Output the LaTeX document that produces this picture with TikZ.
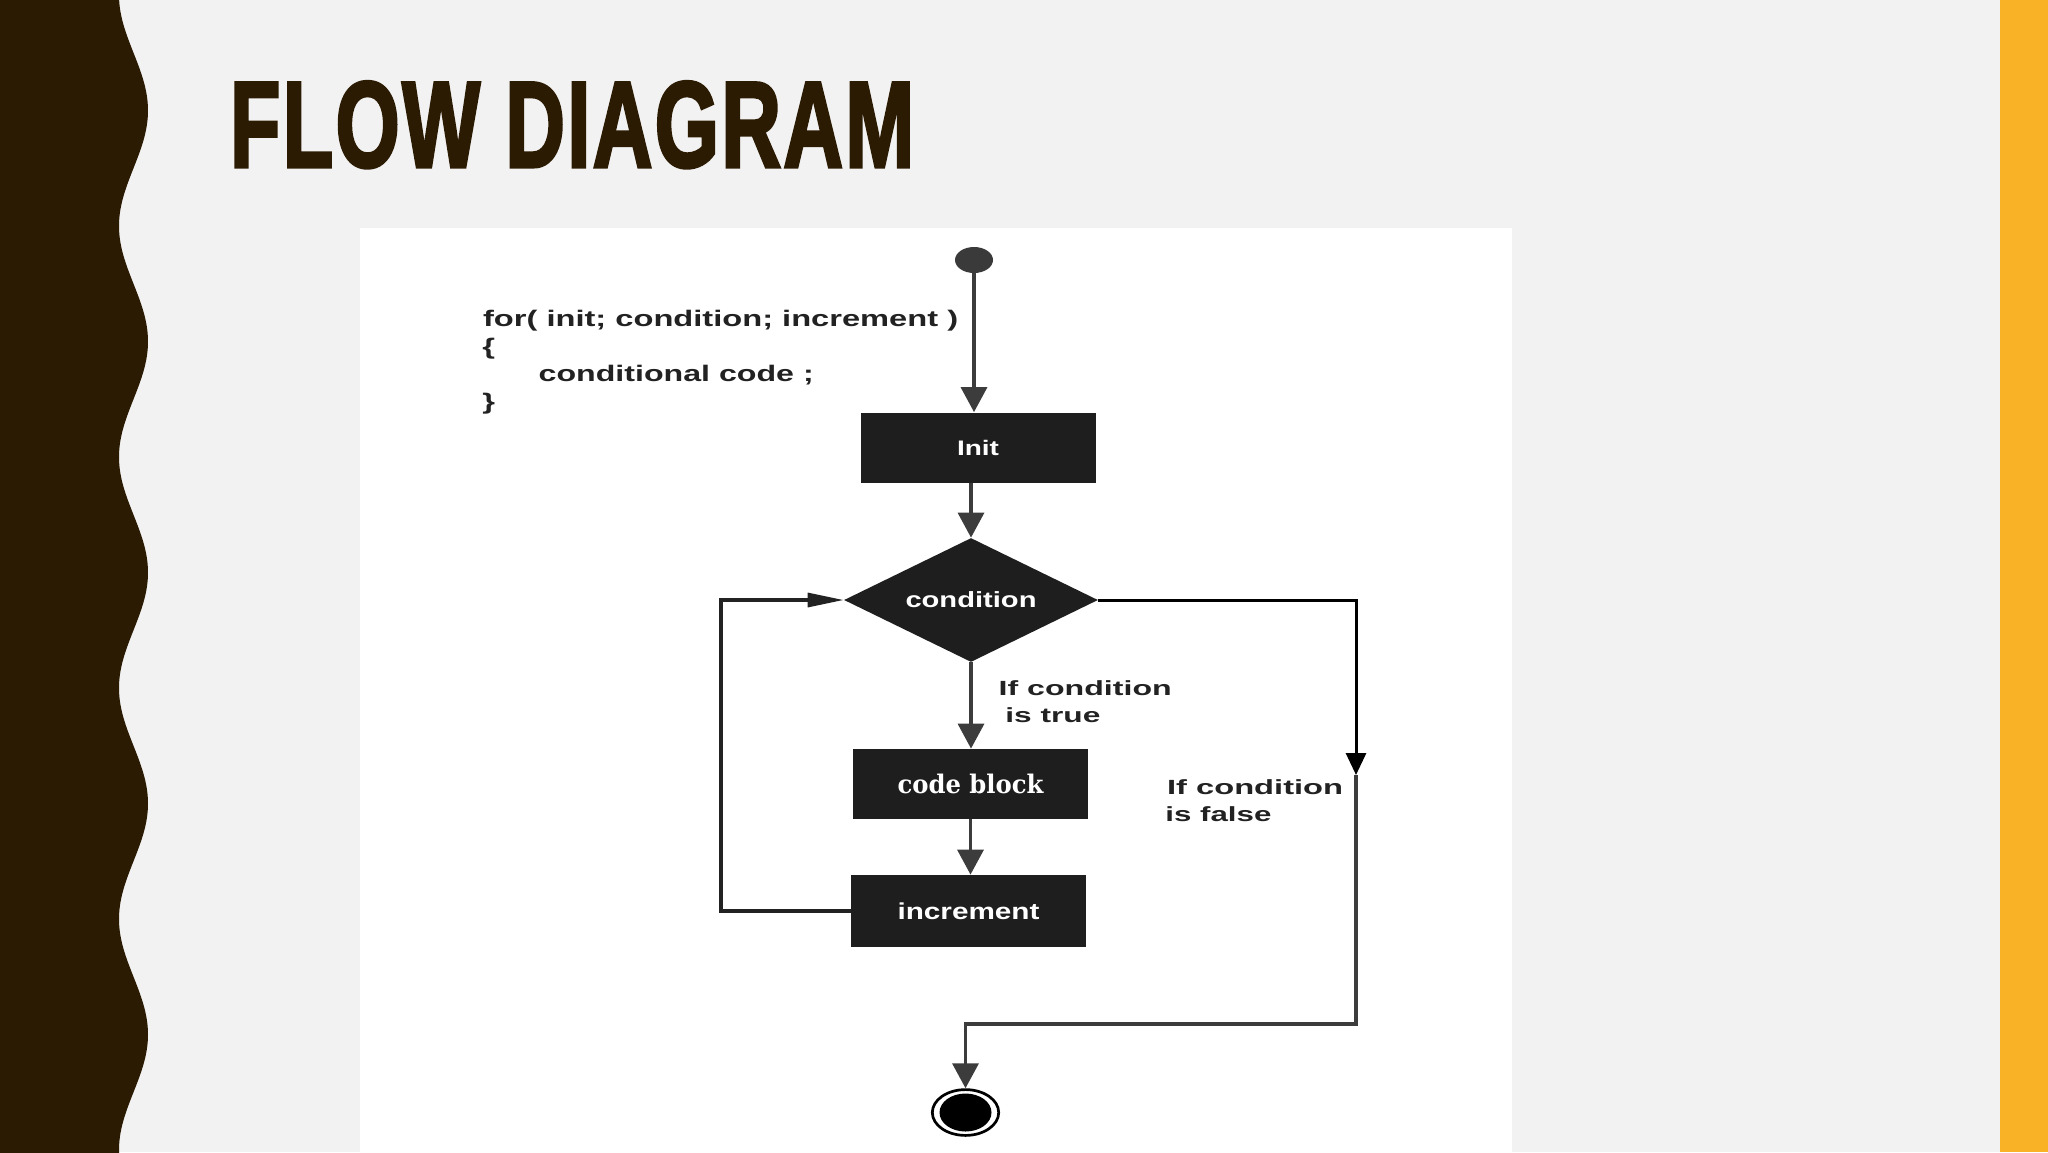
\documentclass[tikz,border=0pt]{standalone}
\usepackage{fontspec}
\usepackage{graphicx}
\setmainfont{Liberation Sans}
\newfontfamily\titlefont[FakeBold=3,LetterSpace=3]{Liberation Sans Bold}
\newfontfamily\serifbox{DejaVu Serif}
\usetikzlibrary{arrows.meta,shapes.geometric}
\newlength\pxu \setlength\pxu{0.5pt}
\newcommand\fitw[2]{\resizebox{#1\pxu}{\height}{#2}}
\definecolor{brn}{HTML}{2C1B03}
\definecolor{bgc}{HTML}{F2F2F2}
\definecolor{orng}{HTML}{F9B226}
\definecolor{boxc}{HTML}{1E1E1E}
\definecolor{lncol}{HTML}{3C3C3C}
\definecolor{loopc}{HTML}{222222}
\definecolor{dotc}{HTML}{3A3A3A}
\definecolor{txtc}{HTML}{222222}
\begin{document}
\begin{tikzpicture}[x=0.5pt,y=-0.5pt,
  box/.style={rectangle, fill=boxc, inner sep=0, minimum width=117.5pt, minimum height=35pt, text=white},
  codetxt/.style={anchor=base west, inner sep=0, text=txtc, font=\fontsize{11.25pt}{13pt}\selectfont\bfseries},
  lbl/.style={anchor=base west, inner sep=0, text=txtc, font=\fontsize{10.25pt}{12pt}\selectfont\bfseries},
  arr/.style={draw=lncol, line width=1.75pt, line join=miter, -{Triangle[length=12.5pt,width=13pt]}, color=lncol},
  loopln/.style={draw=loopc, line width=1.6pt, line join=miter, -{Triangle[length=18pt,width=7pt]}, color=loopc},
  rarr/.style={draw=loopc, line width=1.5pt, line join=miter, -{Triangle[length=11pt,width=10pt]}, color=black}]
\useasboundingbox (0,0) rectangle (2048,1152);
\fill[bgc] (0,0) rectangle (2048,1152);
\fill[orng] (2000,0) rectangle (2048,1152);
\fill[brn] (0,-5) -- plot[domain=-5:1160, samples=400, variable=\yy] ({133.5+14.5*sin(((\yy+5)/231)*360-90)}, {\yy}) -- (0,1160) -- cycle;
\fill[white] (360,228) rectangle (1512,1152);

\node[anchor=base west, inner sep=0, text=brn] (title) at (229.6,166.7) {\resizebox{684\pxu}{85\pxu}{\titlefont FLOW DIAGRAM}};

\node[codetxt] (c1) at (482.7,326.7) {\fitw{475}{for( init; condition; increment )}};
\node[codetxt] (c2) at (482,354.2) {\scalebox{1.45}[1]{\{}};
\node[codetxt] (c3) at (538.3,381.7) {\fitw{275}{conditional code ;}};
\node[codetxt] (c4) at (482,409.2) {\scalebox{1.45}[1]{\}}};

\node[ellipse, fill=dotc, minimum width=19pt, minimum height=13pt, inner sep=0] (start) at (974,260) {};

\node[box] (init) at (978,447.5) {\fitw{42}{\fontsize{10.5pt}{12pt}\selectfont\bfseries Init}};
\node[diamond, aspect=2, fill=boxc, minimum width=127pt, minimum height=62pt, inner sep=0, text=white] (cond) at (971,600) {\fitw{131}{\fontsize{11pt}{13pt}\selectfont\bfseries condition}};
\node[box] (block) at (970.5,784) {\fitw{146}{\serifbox\bfseries\fontsize{12.8pt}{14pt}\selectfont code block}};
\node[box, minimum height=36pt] (incr) at (968.5,911) {\fitw{142}{\fontsize{11.5pt}{13pt}\selectfont\bfseries increment}};

\node[ellipse, draw=black, line width=1.35pt, minimum width=33.2pt, minimum height=22.9pt, inner sep=0] (endo) at (965.5,1112.5) {};
\node[ellipse, fill=black, minimum width=26pt, minimum height=19pt, inner sep=0] (endi) at (endo.center) {};

\node[lbl] (t1) at (998.3,695) {\fitw{173}{If condition}};
\node[lbl] (t2) at (1005,722.3) {\fitw{95}{is true}};
\node[lbl] (f1) at (1166.7,794.3) {\fitw{176}{If condition}};
\node[lbl] (f2) at (1165,821.7) {\fitw{106}{is false}};

\draw[arr] (start) -- (start |- init.north);
\draw[arr] (cond.north |- init.south) -- (cond.north);
\draw[arr] (cond.south) -- (cond.south |- block.north);
\draw[arr] (block.south) -- (block.south |- incr.north);
\coordinate (lx) at (721,911);
\draw[loopln] (incr.west) -- (incr.west -| lx) |- (cond.west);
\coordinate (rt) at (1356,775);
\coordinate (rb) at (1356,1024);
\draw[rarr] (cond.east) -| (rt);
\draw[arr] (rt) -- (rb) -| (endo.north);
\end{tikzpicture}
\end{document}
